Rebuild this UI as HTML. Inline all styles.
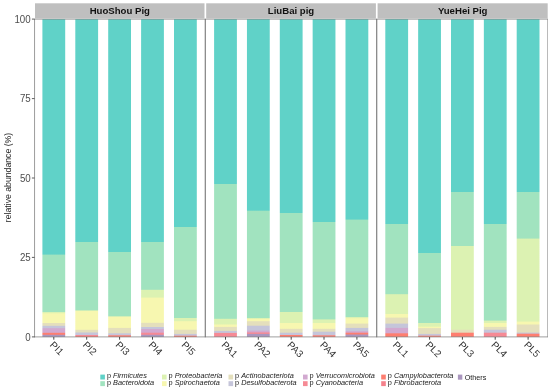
<!DOCTYPE html>
<html lang="en"><head><meta charset="utf-8"><title>Relative abundance of phyla</title>
<style>html,body{margin:0;padding:0;background:#fff}svg{display:block}text{font-family:"Liberation Sans",sans-serif}</style>
</head><body>
<svg width="550" height="391" viewBox="0 0 550 391">
<rect width="550" height="391" fill="#fff"/>
<rect x="35.0" y="3.3" width="169.5" height="15.3" fill="#BFBFBF"/>
<text x="119.8" y="13.7" font-size="9.6" font-weight="bold" text-anchor="middle" fill="#111">HuoShou Pig</text>
<rect x="206.2" y="3.3" width="169.7" height="15.3" fill="#BFBFBF"/>
<text x="291.0" y="13.7" font-size="9.6" font-weight="bold" text-anchor="middle" fill="#111">LiuBai pig</text>
<rect x="377.6" y="3.3" width="170.1" height="15.3" fill="#BFBFBF"/>
<text x="462.7" y="13.7" font-size="9.6" font-weight="bold" text-anchor="middle" fill="#111">YueHei Pig</text>
<defs>
<linearGradient id="gPI1" gradientUnits="userSpaceOnUse" x1="0" y1="19.1" x2="0" y2="336.9">
<stop offset="0.73946" stop-color="#60D2C8"/><stop offset="0.74261" stop-color="#A1E3BF"/>
<stop offset="0.92008" stop-color="#A1E3BF"/><stop offset="0.92322" stop-color="#DCF2B2"/>
<stop offset="0.92417" stop-color="#DCF2B2"/><stop offset="0.92731" stop-color="#F7F7B0"/>
<stop offset="0.95469" stop-color="#F7F7B0"/><stop offset="0.95784" stop-color="#E4DFBC"/>
<stop offset="0.96350" stop-color="#E4DFBC"/><stop offset="0.96665" stop-color="#C5C5DA"/>
<stop offset="0.97105" stop-color="#C5C5DA"/><stop offset="0.97420" stop-color="#D2A9D0"/>
<stop offset="0.98553" stop-color="#D2A9D0"/><stop offset="0.98867" stop-color="#FE7E70"/>
<stop offset="0.99182" stop-color="#FE7E70"/><stop offset="0.99497" stop-color="#AA96BE"/>
</linearGradient>
<linearGradient id="gPI2" gradientUnits="userSpaceOnUse" x1="0" y1="19.1" x2="0" y2="336.9">
<stop offset="0.69981" stop-color="#60D2C8"/><stop offset="0.70296" stop-color="#A1E3BF"/>
<stop offset="0.91536" stop-color="#A1E3BF"/><stop offset="0.91850" stop-color="#F7F7B0"/>
<stop offset="0.97609" stop-color="#F7F7B0"/><stop offset="0.97923" stop-color="#E4DFBC"/>
<stop offset="0.98458" stop-color="#E4DFBC"/><stop offset="0.98773" stop-color="#C5C5DA"/>
<stop offset="0.99245" stop-color="#C5C5DA"/><stop offset="0.99559" stop-color="#F68A95"/>
<stop offset="0.99575" stop-color="#F68A95"/><stop offset="0.99858" stop-color="#FE7E70"/>
</linearGradient>
<linearGradient id="gPI3" gradientUnits="userSpaceOnUse" x1="0" y1="19.1" x2="0" y2="336.9">
<stop offset="0.73128" stop-color="#60D2C8"/><stop offset="0.73442" stop-color="#A1E3BF"/>
<stop offset="0.93392" stop-color="#A1E3BF"/><stop offset="0.93707" stop-color="#F7F7B0"/>
<stop offset="0.97011" stop-color="#F7F7B0"/><stop offset="0.97325" stop-color="#E4DFBC"/>
<stop offset="0.98710" stop-color="#E4DFBC"/><stop offset="0.99025" stop-color="#C5C5DA"/>
<stop offset="0.99339" stop-color="#C5C5DA"/><stop offset="0.99654" stop-color="#FE7E70"/>
</linearGradient>
<linearGradient id="gPI4" gradientUnits="userSpaceOnUse" x1="0" y1="19.1" x2="0" y2="336.9">
<stop offset="0.69981" stop-color="#60D2C8"/><stop offset="0.70296" stop-color="#A1E3BF"/>
<stop offset="0.85022" stop-color="#A1E3BF"/><stop offset="0.85337" stop-color="#DCF2B2"/>
<stop offset="0.87476" stop-color="#DCF2B2"/><stop offset="0.87791" stop-color="#F7F7B0"/>
<stop offset="0.95406" stop-color="#F7F7B0"/><stop offset="0.95721" stop-color="#E4DFBC"/>
<stop offset="0.96728" stop-color="#E4DFBC"/><stop offset="0.97042" stop-color="#C5C5DA"/>
<stop offset="0.97357" stop-color="#C5C5DA"/><stop offset="0.97671" stop-color="#D2A9D0"/>
<stop offset="0.98521" stop-color="#D2A9D0"/><stop offset="0.98836" stop-color="#F68A95"/>
<stop offset="0.99182" stop-color="#F68A95"/><stop offset="0.99497" stop-color="#AA96BE"/>
</linearGradient>
<linearGradient id="gPI5" gradientUnits="userSpaceOnUse" x1="0" y1="19.1" x2="0" y2="336.9">
<stop offset="0.65261" stop-color="#60D2C8"/><stop offset="0.65576" stop-color="#A1E3BF"/>
<stop offset="0.93896" stop-color="#A1E3BF"/><stop offset="0.94210" stop-color="#DCF2B2"/>
<stop offset="0.94902" stop-color="#DCF2B2"/><stop offset="0.95217" stop-color="#F7F7B0"/>
<stop offset="0.97577" stop-color="#F7F7B0"/><stop offset="0.97892" stop-color="#E4DFBC"/>
<stop offset="0.98899" stop-color="#E4DFBC"/><stop offset="0.99213" stop-color="#C5C5DA"/>
<stop offset="0.99465" stop-color="#C5C5DA"/><stop offset="0.99780" stop-color="#FE7E70"/>
</linearGradient>
<linearGradient id="gPA1" gradientUnits="userSpaceOnUse" x1="0" y1="19.1" x2="0" y2="336.9">
<stop offset="0.51731" stop-color="#60D2C8"/><stop offset="0.52045" stop-color="#A1E3BF"/>
<stop offset="0.94147" stop-color="#A1E3BF"/><stop offset="0.94462" stop-color="#DCF2B2"/>
<stop offset="0.95941" stop-color="#DCF2B2"/><stop offset="0.96256" stop-color="#F7F7B0"/>
<stop offset="0.96696" stop-color="#F7F7B0"/><stop offset="0.97011" stop-color="#E4DFBC"/>
<stop offset="0.97955" stop-color="#E4DFBC"/><stop offset="0.98269" stop-color="#C5C5DA"/>
<stop offset="0.98584" stop-color="#C5C5DA"/><stop offset="0.98899" stop-color="#F68A95"/>
</linearGradient>
<linearGradient id="gPA2" gradientUnits="userSpaceOnUse" x1="0" y1="19.1" x2="0" y2="336.9">
<stop offset="0.60132" stop-color="#60D2C8"/><stop offset="0.60447" stop-color="#A1E3BF"/>
<stop offset="0.93927" stop-color="#A1E3BF"/><stop offset="0.94179" stop-color="#DCF2B2"/>
<stop offset="0.94179" stop-color="#DCF2B2"/><stop offset="0.94430" stop-color="#F7F7B0"/>
<stop offset="0.94902" stop-color="#F7F7B0"/><stop offset="0.95217" stop-color="#E4DFBC"/>
<stop offset="0.96318" stop-color="#E4DFBC"/><stop offset="0.96633" stop-color="#C5C5DA"/>
<stop offset="0.97860" stop-color="#C5C5DA"/><stop offset="0.98175" stop-color="#D2A9D0"/>
<stop offset="0.98427" stop-color="#D2A9D0"/><stop offset="0.98741" stop-color="#F68A95"/>
<stop offset="0.98899" stop-color="#F68A95"/><stop offset="0.99213" stop-color="#AA96BE"/>
</linearGradient>
<linearGradient id="gPA3" gradientUnits="userSpaceOnUse" x1="0" y1="19.1" x2="0" y2="336.9">
<stop offset="0.60856" stop-color="#60D2C8"/><stop offset="0.61171" stop-color="#A1E3BF"/>
<stop offset="0.92008" stop-color="#A1E3BF"/><stop offset="0.92322" stop-color="#DCF2B2"/>
<stop offset="0.95469" stop-color="#DCF2B2"/><stop offset="0.95784" stop-color="#F7F7B0"/>
<stop offset="0.97294" stop-color="#F7F7B0"/><stop offset="0.97609" stop-color="#E4DFBC"/>
<stop offset="0.98521" stop-color="#E4DFBC"/><stop offset="0.98836" stop-color="#C5C5DA"/>
<stop offset="0.99245" stop-color="#C5C5DA"/><stop offset="0.99559" stop-color="#FE7E70"/>
</linearGradient>
<linearGradient id="gPA4" gradientUnits="userSpaceOnUse" x1="0" y1="19.1" x2="0" y2="336.9">
<stop offset="0.63688" stop-color="#60D2C8"/><stop offset="0.64003" stop-color="#A1E3BF"/>
<stop offset="0.94336" stop-color="#A1E3BF"/><stop offset="0.94651" stop-color="#DCF2B2"/>
<stop offset="0.95469" stop-color="#DCF2B2"/><stop offset="0.95784" stop-color="#F7F7B0"/>
<stop offset="0.97294" stop-color="#F7F7B0"/><stop offset="0.97609" stop-color="#E4DFBC"/>
<stop offset="0.98206" stop-color="#E4DFBC"/><stop offset="0.98521" stop-color="#C5C5DA"/>
<stop offset="0.99339" stop-color="#C5C5DA"/><stop offset="0.99654" stop-color="#FE7E70"/>
</linearGradient>
<linearGradient id="gPA5" gradientUnits="userSpaceOnUse" x1="0" y1="19.1" x2="0" y2="336.9">
<stop offset="0.62933" stop-color="#60D2C8"/><stop offset="0.63247" stop-color="#A1E3BF"/>
<stop offset="0.93581" stop-color="#A1E3BF"/><stop offset="0.93896" stop-color="#DCF2B2"/>
<stop offset="0.93958" stop-color="#DCF2B2"/><stop offset="0.94273" stop-color="#F7F7B0"/>
<stop offset="0.95658" stop-color="#F7F7B0"/><stop offset="0.95972" stop-color="#E4DFBC"/>
<stop offset="0.97011" stop-color="#E4DFBC"/><stop offset="0.97325" stop-color="#C5C5DA"/>
<stop offset="0.98049" stop-color="#C5C5DA"/><stop offset="0.98364" stop-color="#D2A9D0"/>
<stop offset="0.98521" stop-color="#D2A9D0"/><stop offset="0.98836" stop-color="#FE7E70"/>
<stop offset="0.99087" stop-color="#FE7E70"/><stop offset="0.99402" stop-color="#AA96BE"/>
</linearGradient>
<linearGradient id="gPL1" gradientUnits="userSpaceOnUse" x1="0" y1="19.1" x2="0" y2="336.9">
<stop offset="0.64317" stop-color="#60D2C8"/><stop offset="0.64632" stop-color="#A1E3BF"/>
<stop offset="0.86407" stop-color="#A1E3BF"/><stop offset="0.86721" stop-color="#DCF2B2"/>
<stop offset="0.92637" stop-color="#DCF2B2"/><stop offset="0.92952" stop-color="#F7F7B0"/>
<stop offset="0.93770" stop-color="#F7F7B0"/><stop offset="0.94084" stop-color="#E4DFBC"/>
<stop offset="0.95658" stop-color="#E4DFBC"/><stop offset="0.95972" stop-color="#C5C5DA"/>
<stop offset="0.97011" stop-color="#C5C5DA"/><stop offset="0.97325" stop-color="#D2A9D0"/>
<stop offset="0.98710" stop-color="#D2A9D0"/><stop offset="0.99025" stop-color="#FE7E70"/>
</linearGradient>
<linearGradient id="gPL2" gradientUnits="userSpaceOnUse" x1="0" y1="19.1" x2="0" y2="336.9">
<stop offset="0.73442" stop-color="#60D2C8"/><stop offset="0.73757" stop-color="#A1E3BF"/>
<stop offset="0.95469" stop-color="#A1E3BF"/><stop offset="0.95784" stop-color="#DCF2B2"/>
<stop offset="0.96633" stop-color="#DCF2B2"/><stop offset="0.96948" stop-color="#F7F7B0"/>
<stop offset="0.97074" stop-color="#F7F7B0"/><stop offset="0.97388" stop-color="#E4DFBC"/>
<stop offset="0.98899" stop-color="#E4DFBC"/><stop offset="0.99213" stop-color="#C5C5DA"/>
<stop offset="0.99465" stop-color="#C5C5DA"/><stop offset="0.99780" stop-color="#FE7E70"/>
</linearGradient>
<linearGradient id="gPL3" gradientUnits="userSpaceOnUse" x1="0" y1="19.1" x2="0" y2="336.9">
<stop offset="0.54248" stop-color="#60D2C8"/><stop offset="0.54563" stop-color="#A1E3BF"/>
<stop offset="0.71240" stop-color="#A1E3BF"/><stop offset="0.71554" stop-color="#DCF2B2"/>
<stop offset="0.97577" stop-color="#DCF2B2"/><stop offset="0.97892" stop-color="#E4DFBC"/>
<stop offset="0.98521" stop-color="#E4DFBC"/><stop offset="0.98836" stop-color="#FE7E70"/>
</linearGradient>
<linearGradient id="gPL4" gradientUnits="userSpaceOnUse" x1="0" y1="19.1" x2="0" y2="336.9">
<stop offset="0.64317" stop-color="#60D2C8"/><stop offset="0.64632" stop-color="#A1E3BF"/>
<stop offset="0.94714" stop-color="#A1E3BF"/><stop offset="0.95028" stop-color="#DCF2B2"/>
<stop offset="0.95469" stop-color="#DCF2B2"/><stop offset="0.95784" stop-color="#F7F7B0"/>
<stop offset="0.96696" stop-color="#F7F7B0"/><stop offset="0.97011" stop-color="#E4DFBC"/>
<stop offset="0.97577" stop-color="#E4DFBC"/><stop offset="0.97892" stop-color="#C5C5DA"/>
<stop offset="0.98521" stop-color="#C5C5DA"/><stop offset="0.98836" stop-color="#F68A95"/>
</linearGradient>
<linearGradient id="gPL5" gradientUnits="userSpaceOnUse" x1="0" y1="19.1" x2="0" y2="336.9">
<stop offset="0.54248" stop-color="#60D2C8"/><stop offset="0.54563" stop-color="#A1E3BF"/>
<stop offset="0.68911" stop-color="#A1E3BF"/><stop offset="0.69226" stop-color="#DCF2B2"/>
<stop offset="0.95028" stop-color="#DCF2B2"/><stop offset="0.95343" stop-color="#F7F7B0"/>
<stop offset="0.95941" stop-color="#F7F7B0"/><stop offset="0.96256" stop-color="#E4DFBC"/>
<stop offset="0.98490" stop-color="#E4DFBC"/><stop offset="0.98804" stop-color="#C5C5DA"/>
<stop offset="0.98836" stop-color="#C5C5DA"/><stop offset="0.99150" stop-color="#FE7E70"/>
</linearGradient>
</defs>
<rect x="42.40" y="19.1" width="22.8" height="317.8" fill="url(#gPI1)"/>
<rect x="75.30" y="19.1" width="22.8" height="317.8" fill="url(#gPI2)"/>
<rect x="108.20" y="19.1" width="22.8" height="317.8" fill="url(#gPI3)"/>
<rect x="141.10" y="19.1" width="22.8" height="317.8" fill="url(#gPI4)"/>
<rect x="174.00" y="19.1" width="22.8" height="317.8" fill="url(#gPI5)"/>
<rect x="214.10" y="19.1" width="22.8" height="317.8" fill="url(#gPA1)"/>
<rect x="246.95" y="19.1" width="22.8" height="317.8" fill="url(#gPA2)"/>
<rect x="279.80" y="19.1" width="22.8" height="317.8" fill="url(#gPA3)"/>
<rect x="312.65" y="19.1" width="22.8" height="317.8" fill="url(#gPA4)"/>
<rect x="345.50" y="19.1" width="22.8" height="317.8" fill="url(#gPA5)"/>
<rect x="385.30" y="19.1" width="22.8" height="317.8" fill="url(#gPL1)"/>
<rect x="418.15" y="19.1" width="22.8" height="317.8" fill="url(#gPL2)"/>
<rect x="451.00" y="19.1" width="22.8" height="317.8" fill="url(#gPL3)"/>
<rect x="483.85" y="19.1" width="22.8" height="317.8" fill="url(#gPL4)"/>
<rect x="516.70" y="19.1" width="22.8" height="317.8" fill="url(#gPL5)"/>
<line x1="34.55" y1="18.8" x2="34.55" y2="337.3" stroke="#8a8a8a" stroke-width="0.85"/>
<line x1="205.3" y1="18.8" x2="205.3" y2="337.3" stroke="#808080" stroke-width="1.2"/>
<line x1="376.7" y1="18.8" x2="376.7" y2="337.3" stroke="#808080" stroke-width="1.2"/>
<line x1="547.5" y1="18.8" x2="547.5" y2="337.2" stroke="#8c8c8c" stroke-width="0.6"/>
<line x1="34.3" y1="19.25" x2="547.8" y2="19.25" stroke="#777" stroke-width="0.6"/>
<line x1="34.1" y1="336.9" x2="547.9" y2="336.9" stroke="#777" stroke-width="0.7"/>
<line x1="31.9" y1="336.9" x2="34.5" y2="336.9" stroke="#333" stroke-width="0.8"/>
<text transform="translate(30.7,340.6) scale(0.945,1)" font-size="10.3" text-anchor="end" fill="#4D4D4D">0</text>
<line x1="31.9" y1="257.4" x2="34.5" y2="257.4" stroke="#333" stroke-width="0.8"/>
<text transform="translate(30.7,261.1) scale(0.945,1)" font-size="10.3" text-anchor="end" fill="#4D4D4D">25</text>
<line x1="31.9" y1="178.0" x2="34.5" y2="178.0" stroke="#333" stroke-width="0.8"/>
<text transform="translate(30.7,181.7) scale(0.945,1)" font-size="10.3" text-anchor="end" fill="#4D4D4D">50</text>
<line x1="31.9" y1="98.6" x2="34.5" y2="98.6" stroke="#333" stroke-width="0.8"/>
<text transform="translate(30.7,102.3) scale(0.945,1)" font-size="10.3" text-anchor="end" fill="#4D4D4D">75</text>
<line x1="31.9" y1="19.1" x2="34.5" y2="19.1" stroke="#333" stroke-width="0.8"/>
<text transform="translate(30.7,22.8) scale(0.945,1)" font-size="10.3" text-anchor="end" fill="#4D4D4D">100</text>
<line x1="53.8" y1="337" x2="53.8" y2="339.7" stroke="#333" stroke-width="0.9"/>
<text transform="translate(49.3,345.5) rotate(45)" font-size="9.8" fill="#333">PI1</text>
<line x1="86.7" y1="337" x2="86.7" y2="339.7" stroke="#333" stroke-width="0.9"/>
<text transform="translate(82.2,345.5) rotate(45)" font-size="9.8" fill="#333">PI2</text>
<line x1="119.6" y1="337" x2="119.6" y2="339.7" stroke="#333" stroke-width="0.9"/>
<text transform="translate(115.1,345.5) rotate(45)" font-size="9.8" fill="#333">PI3</text>
<line x1="152.5" y1="337" x2="152.5" y2="339.7" stroke="#333" stroke-width="0.9"/>
<text transform="translate(148.0,345.5) rotate(45)" font-size="9.8" fill="#333">PI4</text>
<line x1="185.4" y1="337" x2="185.4" y2="339.7" stroke="#333" stroke-width="0.9"/>
<text transform="translate(180.9,345.5) rotate(45)" font-size="9.8" fill="#333">PI5</text>
<line x1="225.5" y1="337" x2="225.5" y2="339.7" stroke="#333" stroke-width="0.9"/>
<text transform="translate(221.0,345.5) rotate(45)" font-size="9.8" fill="#333">PA1</text>
<line x1="258.3" y1="337" x2="258.3" y2="339.7" stroke="#333" stroke-width="0.9"/>
<text transform="translate(253.8,345.5) rotate(45)" font-size="9.8" fill="#333">PA2</text>
<line x1="291.2" y1="337" x2="291.2" y2="339.7" stroke="#333" stroke-width="0.9"/>
<text transform="translate(286.7,345.5) rotate(45)" font-size="9.8" fill="#333">PA3</text>
<line x1="324.0" y1="337" x2="324.0" y2="339.7" stroke="#333" stroke-width="0.9"/>
<text transform="translate(319.5,345.5) rotate(45)" font-size="9.8" fill="#333">PA4</text>
<line x1="356.9" y1="337" x2="356.9" y2="339.7" stroke="#333" stroke-width="0.9"/>
<text transform="translate(352.4,345.5) rotate(45)" font-size="9.8" fill="#333">PA5</text>
<line x1="396.7" y1="337" x2="396.7" y2="339.7" stroke="#333" stroke-width="0.9"/>
<text transform="translate(392.2,345.5) rotate(45)" font-size="9.8" fill="#333">PL1</text>
<line x1="429.6" y1="337" x2="429.6" y2="339.7" stroke="#333" stroke-width="0.9"/>
<text transform="translate(425.1,345.5) rotate(45)" font-size="9.8" fill="#333">PL2</text>
<line x1="462.4" y1="337" x2="462.4" y2="339.7" stroke="#333" stroke-width="0.9"/>
<text transform="translate(457.9,345.5) rotate(45)" font-size="9.8" fill="#333">PL3</text>
<line x1="495.2" y1="337" x2="495.2" y2="339.7" stroke="#333" stroke-width="0.9"/>
<text transform="translate(490.8,345.5) rotate(45)" font-size="9.8" fill="#333">PL4</text>
<line x1="528.1" y1="337" x2="528.1" y2="339.7" stroke="#333" stroke-width="0.9"/>
<text transform="translate(523.6,345.5) rotate(45)" font-size="9.8" fill="#333">PL5</text>
<text transform="translate(10.8,177.5) rotate(-90)" font-size="8.7" text-anchor="middle" fill="#1a1a1a">relative abundance (%)</text>
<rect x="100.3" y="374.6" width="4.6" height="4.9" fill="#60D2C8"/>
<text transform="translate(106.9,378.4) scale(1.05,1)" font-size="7" fill="#1a1a1a">p <tspan font-style="italic">Firmicutes</tspan></text>
<rect x="100.3" y="381.2" width="4.6" height="4.9" fill="#A1E3BF"/>
<text transform="translate(106.9,385.0) scale(1.05,1)" font-size="7" fill="#1a1a1a">p <tspan font-style="italic">Bacteroidota</tspan></text>
<rect x="162.0" y="374.6" width="4.6" height="4.9" fill="#DCF2B2"/>
<text transform="translate(168.6,378.4) scale(1.05,1)" font-size="7" fill="#1a1a1a">p <tspan font-style="italic">Proteobacteria</tspan></text>
<rect x="162.0" y="381.2" width="4.6" height="4.9" fill="#F7F7B0"/>
<text transform="translate(168.6,385.0) scale(1.05,1)" font-size="7" fill="#1a1a1a">p <tspan font-style="italic">Spirochaetota</tspan></text>
<rect x="228.5" y="374.6" width="4.6" height="4.9" fill="#E4DFBC"/>
<text transform="translate(235.1,378.4) scale(1.05,1)" font-size="7" fill="#1a1a1a">p <tspan font-style="italic">Actinobacteriota</tspan></text>
<rect x="228.5" y="381.2" width="4.6" height="4.9" fill="#C5C5DA"/>
<text transform="translate(235.1,385.0) scale(1.05,1)" font-size="7" fill="#1a1a1a">p <tspan font-style="italic">Desulfobacterota</tspan></text>
<rect x="303.0" y="374.6" width="4.6" height="4.9" fill="#D2A9D0"/>
<text transform="translate(309.6,378.4) scale(1.05,1)" font-size="7" fill="#1a1a1a">p <tspan font-style="italic">Verrucomicrobiota</tspan></text>
<rect x="303.0" y="381.2" width="4.6" height="4.9" fill="#F68A95"/>
<text transform="translate(309.6,385.0) scale(1.05,1)" font-size="7" fill="#1a1a1a">p <tspan font-style="italic">Cyanobacteria</tspan></text>
<rect x="381.2" y="374.6" width="4.6" height="4.9" fill="#FE7E70"/>
<text transform="translate(387.8,378.4) scale(1.05,1)" font-size="7" fill="#1a1a1a">p <tspan font-style="italic">Campylobacterota</tspan></text>
<rect x="381.2" y="381.2" width="4.6" height="4.9" fill="#F5828C"/>
<text transform="translate(387.8,385.0) scale(1.05,1)" font-size="7" fill="#1a1a1a">p <tspan font-style="italic">Fibrobacterota</tspan></text>
<rect x="457.9" y="374.6" width="4.4" height="5.1" fill="#AA96BE"/>
<text x="464.7" y="379.7" font-size="7.2" fill="#1a1a1a">Others</text>
</svg>
</body></html>
